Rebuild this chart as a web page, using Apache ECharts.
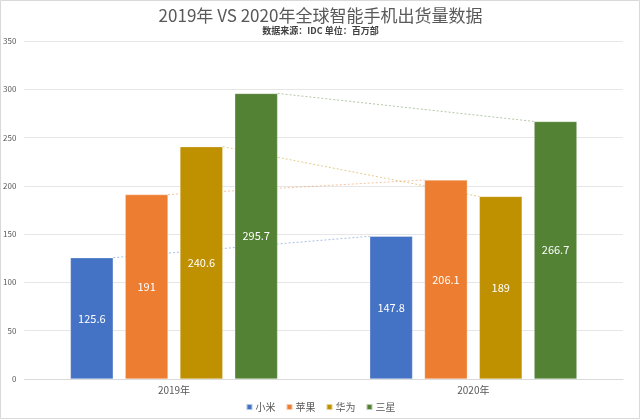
<!DOCTYPE html>
<html>
<head>
<meta charset="utf-8">
<script src="https://cdn.jsdelivr.net/npm/echarts@6/dist/echarts.min.js"></script>
<style>
  html, body { margin: 0; padding: 0; background: #fff; }
  #chart { width: 641px; height: 420px; }
</style>
</head>
<body>
<div id="chart"></div>
<script>
const years = ['2019年', '2020年']
const brands = ['小米', '苹果', '华为', '三星']
const colors = ['#4472c4', '#ed7d31', '#bf9000', '#548235']
const xiaomi = [125.6, 147.8]
const apple = [191, 206.1]
const huawei = [240.6, 189]
const samsung = [295.7, 266.7]
const values = [xiaomi, apple, huawei, samsung]
const yTicks = [0, 50, 100, 150, 200, 250, 300, 350]

const chart = echarts.init(document.getElementById('chart'))

const BAR_PCT = 0.143
const GAP_PCT = 0.28

// 系列线：连接2019柱右上角与2020柱左上角
const connector = (idx) => ({
  type: 'custom',
  silent: true,
  z: 1,
  data: [[values[idx][0], values[idx][1]]],
  renderItem: (params, api) => {
    const band = api.size([1, 0])[0]
    const bw = band * BAR_PCT
    const step = bw * (1 + GAP_PCT)
    const off = (idx - 1.5) * step
    const p0 = api.coord([0, api.value(0)])
    const p1 = api.coord([1, api.value(1)])
    return {
      type: 'line',
      shape: { x1: p0[0] + off + bw / 2, y1: p0[1], x2: p1[0] + off - bw / 2, y2: p1[1] },
      style: { stroke: colors[idx], lineWidth: 1, lineDash: [2, 2], opacity: 0.45 }
    }
  }
})

const bars = brands.map((name, i) => ({
  name,
  type: 'bar',
  data: values[i],
  barWidth: (BAR_PCT * 100) + '%',
  barGap: (GAP_PCT * 100) + '%',
  z: 2,
  itemStyle: { color: colors[i], borderColor: 'rgba(255,255,255,0.6)', borderWidth: 0.5 },
  label: {
    show: true,
    position: 'inside',
    color: '#fff',
    fontSize: 11,
    fontFamily: 'Noto Sans CJK SC'
  }
}))

chart.setOption({
  backgroundColor: '#fff',
  animation: false,
  color: colors,
  textStyle: { fontFamily: 'Noto Sans CJK SC' },
  graphic: [{
    type: 'rect',
    shape: { x: 0.5, y: 0.5, width: 639, height: 418 },
    style: { fill: 'none', stroke: '#d9d9d9', lineWidth: 1 },
    silent: true
  }],
  title: {
    text: '2019年 VS 2020年全球智能手机出货量数据',
    subtext: '数据来源：IDC 单位：百万部',
    left: 'center',
    top: 2,
    itemGap: 2,
    textStyle: { color: '#595959', fontSize: 17, fontWeight: 'normal', fontFamily: 'Noto Sans CJK SC' },
    subtextStyle: { color: '#404040', fontSize: 9, fontWeight: 'bold', fontFamily: 'Noto Sans CJK SC' }
  },
  legend: {
    data: brands,
    bottom: 3,
    left: 'center',
    icon: 'rect',
    itemWidth: 6,
    itemHeight: 6,
    itemGap: 10,
    textStyle: { color: '#595959', fontSize: 10, padding: [0, 0, 0, -2] }
  },
  grid: { left: 22, right: 18, top: 41, bottom: 41, containLabel: false },
  xAxis: {
    type: 'category',
    data: years,
    axisLine: { lineStyle: { color: '#d9d9d9' } },
    axisTick: { show: false },
    axisLabel: { color: '#595959', fontSize: 10, margin: 6 }
  },
  yAxis: {
    type: 'value',
    min: yTicks[0],
    max: yTicks[yTicks.length - 1],
    interval: 50,
    axisLine: { show: false },
    axisTick: { show: false },
    axisLabel: { color: '#595959', fontSize: 8, margin: 8 },
    splitLine: { lineStyle: { color: '#e6e6e6' } }
  },
  series: [...bars, ...brands.map((b, i) => connector(i))]
})
</script>
</body>
</html>
